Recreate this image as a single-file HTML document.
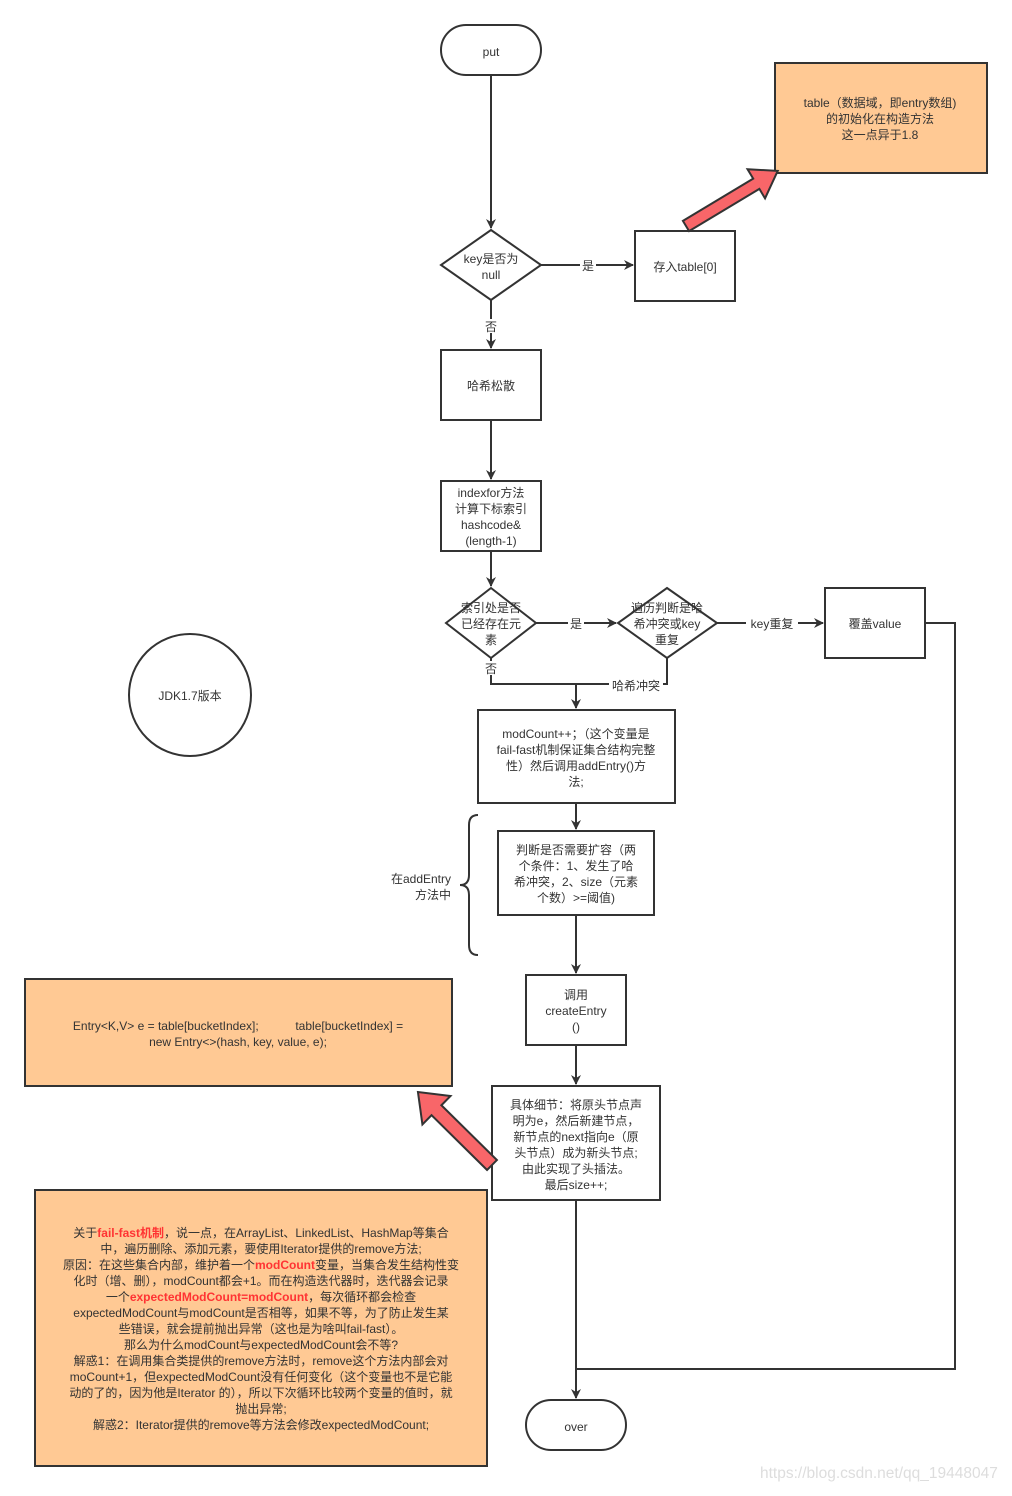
<!DOCTYPE html>
<html><head><meta charset="utf-8"><style>
html,body{margin:0;padding:0;background:#fff}
svg text{font-family:"Liberation Sans","Noto Sans CJK SC",sans-serif;font-size:12px;fill:#333}
</style></head><body>
<svg width="1012" height="1491" viewBox="0 0 1012 1491" xmlns="http://www.w3.org/2000/svg">
<defs><marker id="a" markerWidth="10" markerHeight="10" refX="9" refY="5" orient="auto" markerUnits="userSpaceOnUse"><path d="M0,0 L10,5 L0,10 L3,5 Z" fill="#333"/></marker></defs>
<g fill="none" stroke="#333" stroke-width="2">
<path d="M491,75 V228" marker-end="url(#a)"/>
<path d="M541,265 H633" marker-end="url(#a)"/>
<path d="M491,300 V348" marker-end="url(#a)"/>
<path d="M491,420 V479" marker-end="url(#a)"/>
<path d="M491,551 V586" marker-end="url(#a)"/>
<path d="M536,623 H616" marker-end="url(#a)"/>
<path d="M717,623 H823" marker-end="url(#a)"/>
<path d="M925,623 H955 V1369 H576"/>
<path d="M491,658 V684 H576 M667,658 V684 H576"/>
<path d="M576,684 V708" marker-end="url(#a)"/>
<path d="M576,803 V829" marker-end="url(#a)"/>
<path d="M576,915 V973" marker-end="url(#a)"/>
<path d="M576,1045 V1084" marker-end="url(#a)"/>
<path d="M576,1200 V1398" marker-end="url(#a)"/>
<rect x="441" y="25" width="100" height="50" rx="25" fill="#fff"/>
<polygon points="491,230 541,265 491,300 441,265" fill="#fff"/>
<rect x="635" y="231" width="100" height="70" fill="#fff"/>
<rect x="775" y="63" width="212" height="110" fill="#ffc994"/>
<rect x="441" y="350" width="100" height="70" fill="#fff"/>
<rect x="441" y="481" width="100" height="70" fill="#fff"/>
<polygon points="491,588 536,623 491,658 446,623" fill="#fff"/>
<polygon points="667,588 717,623 667,658 618,623" fill="#fff"/>
<rect x="825" y="588" width="100" height="70" fill="#fff"/>
<rect x="478" y="710" width="197" height="93" fill="#fff"/>
<rect x="498" y="831" width="156" height="84" fill="#fff"/>
<path d="M478,815 Q469,815 469,825 V875 Q469,885 460,885 Q469,885 469,895 V945 Q469,955 478,955"/>
<rect x="526" y="975" width="100" height="70" fill="#fff"/>
<rect x="492" y="1086" width="168" height="114" fill="#fff"/>
<rect x="526" y="1400" width="100" height="50" rx="25" fill="#fff"/>
<rect x="25" y="979" width="427" height="107" fill="#ffc994"/>
<rect x="35" y="1190" width="452" height="276" fill="#ffc994"/>
<circle cx="190" cy="695" r="61" fill="#fff"/>
</g>
<g fill="#f86669" stroke="#333" stroke-width="2">
<polygon transform="translate(686,226) rotate(-31)" points="0,-6 82,-6 82,-17 107,0 82,17 82,6 0,6"/>
<polygon transform="translate(492,1165) rotate(-135.4)" points="0,-7 78,-7 78,-20 104,0 78,20 78,7 0,7"/>
</g>
<rect x="580" y="258" width="16" height="14" fill="#fff"/>
<rect x="483" y="319" width="16" height="14" fill="#fff"/>
<rect x="568" y="616" width="16" height="14" fill="#fff"/>
<rect x="746" y="616" width="52" height="14" fill="#fff"/>
<rect x="483" y="661" width="16" height="14" fill="#fff"/>
<rect x="609" y="678" width="54" height="14" fill="#fff"/>
<g text-anchor="middle">
<text x="491" y="56">put</text>
<text x="491" y="263">key是否为</text><text x="491" y="279">null</text>
<text x="588" y="270">是</text>
<text x="685" y="271">存入table[0]</text>
<text x="880" y="107">table（数据域，即entry数组)</text>
<text x="880" y="123">的初始化在构造方法</text>
<text x="880" y="139">这一点异于1.8</text>
<text x="491" y="331">否</text>
<text x="491" y="390">哈希松散</text>
<text x="491" y="497">indexfor方法</text>
<text x="491" y="513">计算下标索引</text>
<text x="491" y="529">hashcode&amp;</text>
<text x="491" y="545">(length-1)</text>
<text x="491" y="612">索引处是否</text><text x="491" y="628">已经存在元</text><text x="491" y="644">素</text>
<text x="576" y="628">是</text>
<text x="667" y="612">遍历判断是哈</text><text x="667" y="628">希冲突或key</text><text x="667" y="644">重复</text>
<text x="772" y="628">key重复</text>
<text x="875" y="628">覆盖value</text>
<text x="491" y="673">否</text>
<text x="636" y="690">哈希冲突</text>
<text x="576" y="738">modCount++；（这个变量是</text>
<text x="576" y="754">fail-fast机制保证集合结构完整</text>
<text x="576" y="770">性）然后调用addEntry()方</text>
<text x="576" y="786">法;</text>
<text x="576" y="854">判断是否需要扩容（两</text>
<text x="576" y="870">个条件：1、发生了哈</text>
<text x="576" y="886">希冲突，2、size（元素</text>
<text x="576" y="902">个数）&gt;=阈值)</text>
<text x="576" y="999">调用</text><text x="576" y="1015">createEntry</text><text x="576" y="1031">()</text>
<text x="576" y="1109">具体细节：将原头节点声</text>
<text x="576" y="1125">明为e，然后新建节点，</text>
<text x="576" y="1141">新节点的next指向e（原</text>
<text x="576" y="1157">头节点）成为新头节点;</text>
<text x="576" y="1173">由此实现了头插法。</text>
<text x="576" y="1189">最后size++;</text>
<text x="576" y="1431">over</text>
<text x="190" y="700">JDK1.7版本</text>
<text x="238" y="1030" style="white-space:pre">Entry&lt;K,V&gt; e = table[bucketIndex];           table[bucketIndex] =</text>
<text x="238" y="1046">new Entry&lt;&gt;(hash, key, value, e);</text>
<text x="261" y="1237">关于<tspan font-weight="bold" style="fill:#ff3333">fail-fast机制</tspan>，说一点，在ArrayList、LinkedList、HashMap等集合</text>
<text x="261" y="1253">中，遍历删除、添加元素，要使用Iterator提供的remove方法;</text>
<text x="261" y="1269">原因：在这些集合内部，维护着一个<tspan font-weight="bold" style="fill:#ff3333">modCount</tspan>变量，当集合发生结构性变</text>
<text x="261" y="1285">化时（增、删），modCount都会+1。而在构造迭代器时，迭代器会记录</text>
<text x="261" y="1301">一个<tspan font-weight="bold" style="fill:#ff3333">expectedModCount=modCount</tspan>，每次循环都会检查</text>
<text x="261" y="1317">expectedModCount与modCount是否相等，如果不等，为了防止发生某</text>
<text x="261" y="1333">些错误，就会提前抛出异常（这也是为啥叫fail-fast）。</text>
<text x="261" y="1349">那么为什么modCount与expectedModCount会不等?</text>
<text x="261" y="1365">解惑1：在调用集合类提供的remove方法时，remove这个方法内部会对</text>
<text x="261" y="1381">moCount+1，但expectedModCount没有任何变化（这个变量也不是它能</text>
<text x="261" y="1397">动的了的，因为他是Iterator 的），所以下次循环比较两个变量的值时，就</text>
<text x="261" y="1413">抛出异常;</text>
<text x="261" y="1429">解惑2：Iterator提供的remove等方法会修改expectedModCount;</text>
</g>
<g text-anchor="end">
<text x="451" y="883">在addEntry</text>
<text x="451" y="899">方法中</text>
</g>
<text x="760" y="1478" style="fill:#ddd;font-size:15.5px">https://blog.csdn.net/qq_19448047</text>
</svg>
</body></html>
